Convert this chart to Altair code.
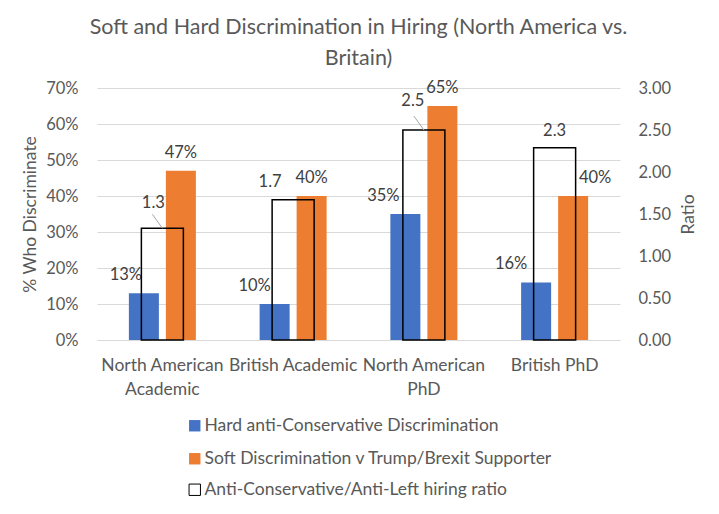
import altair as alt
import pandas as pd

categories = ["North American Academic", "British Academic", "North American PhD", "British PhD"]
hard = [0.13, 0.10, 0.35, 0.16]
soft = [0.47, 0.40, 0.65, 0.40]
ratio = [1.33, 1.67, 2.50, 2.29]
series_names = ["Hard anti-Conservative Discrimination",
                "Soft Discrimination v Trump/Brexit Supporter"]
ratio_name = "Anti-Conservative/Anti-Left hiring ratio"

# label nudges in pixels (style only)
hard_dx = [-18, -20, -22, -25]
soft_dx = [0, 0, 0, 22]
ratio_dx = [-9, -23, -11, 0]
ratio_dy = [-25, -18, -29, -17]
ratio_leader = [True, False, True, False]

BLUE = "#4472C4"
ORANGE = "#ED7D31"
GREY = "#595959"
FONT = "Lato"
BAR_W = 30
GAP = 7
SHIFT = (BAR_W + GAP) / 2
TXT = 17.5
NUM = 16.5

df_hard = pd.DataFrame({"category": categories, "value": hard, "dx": hard_dx,
                        "series": series_names[0]})
df_soft = pd.DataFrame({"category": categories, "value": soft, "dx": soft_dx,
                        "series": series_names[1]})
df_ratio = pd.DataFrame({"category": categories, "value": ratio, "dx": ratio_dx,
                         "dy": ratio_dy, "leader": ratio_leader, "series": ratio_name})

x_enc = alt.X("category:N", sort=categories, title=None,
              scale=alt.Scale(paddingInner=0, paddingOuter=0),
              axis=alt.Axis(labelExpr="indexof(datum.label, 'North American ') == 0 ? ['North American', replace(datum.label, 'North American ', '')] : datum.label",
                            labelAngle=0, labelFontSize=TXT, labelColor=GREY, labelFont=FONT,
                            labelLimit=200, labelLineHeight=24, labelPadding=16,
                            domainColor="#D9D9D9", domainWidth=1, ticks=False))

y_left = alt.Y("value:Q", title="% Who Discriminate",
               scale=alt.Scale(domain=[0, 0.7], nice=False),
               axis=alt.Axis(values=[0, 0.1, 0.2, 0.3, 0.4, 0.5, 0.6, 0.7], format=".0%",
                             labelFontSize=NUM, labelColor=GREY, labelFont=FONT,
                             labelPadding=19, ticks=False, domain=False,
                             gridColor="#D9D9D9", gridWidth=1,
                             titleFontSize=TXT, titleColor=GREY, titleFont=FONT,
                             titleFontWeight="normal", titleX=-67, titleY=126,
                             titleAlign="center", titleBaseline="middle", titleAngle=270))

color_enc = alt.Color("series:N",
                      scale=alt.Scale(domain=series_names, range=[BLUE, ORANGE]),
                      legend=alt.Legend(title=None, orient="none", legendX=89, legendY=329,
                                        symbolType="square", symbolSize=130,
                                        symbolStrokeWidth=0, labelFontSize=TXT,
                                        labelColor=GREY, labelFont=FONT, rowPadding=14,
                                        labelOffset=1, labelLimit=500))

hard_bars = alt.Chart(df_hard).mark_bar(width=BAR_W, xOffset=-SHIFT).encode(
    x=x_enc, y=y_left, color=color_enc)
soft_bars = alt.Chart(df_soft).mark_bar(width=BAR_W, xOffset=SHIFT).encode(
    x=x_enc, y=y_left, color=color_enc)

hard_text = alt.Chart(df_hard).mark_text(
    xOffset=-SHIFT, dx={"expr": "datum.dx"}, dy=-18, fontSize=NUM, font=FONT,
    color="#404040", baseline="middle").encode(
    x=x_enc, y=y_left, text=alt.Text("value:Q", format=".0%"))
soft_text = alt.Chart(df_soft).mark_text(
    xOffset=SHIFT, dx={"expr": "datum.dx"}, dy=-18, fontSize=NUM, font=FONT,
    color="#404040", baseline="middle").encode(
    x=x_enc, y=y_left, text=alt.Text("value:Q", format=".0%"))

left = alt.layer(hard_bars, soft_bars, hard_text, soft_text)

y_right = alt.Y("value:Q", title="Ratio",
                scale=alt.Scale(domain=[0, 3], nice=False),
                axis=alt.Axis(orient="right", values=[0, 0.5, 1, 1.5, 2, 2.5, 3], format=".2f",
                              labelFontSize=NUM, labelColor=GREY, labelFont=FONT,
                              labelPadding=18, ticks=False, domain=False, grid=False,
                              titleFontSize=TXT, titleColor=GREY, titleFont=FONT,
                              titleFontWeight="normal", titleAngle=270,
                              titleX=68, titleY=126, titleAlign="center",
                              titleBaseline="middle"))

ratio_bars = alt.Chart(df_ratio).mark_bar(width=42, fill="transparent", strokeWidth=1.5).encode(
    x=x_enc, y=y_right,
    stroke=alt.Stroke("series:N", scale=alt.Scale(domain=[ratio_name], range=["black"]),
                      legend=alt.Legend(title=None, orient="none", legendX=89, legendY=393,
                                        symbolType="square", symbolSize=130,
                                        symbolFillColor="white", symbolStrokeWidth=1,
                                        labelFontSize=TXT, labelColor=GREY, labelFont=FONT,
                                        labelOffset=1, labelLimit=500)))
ratio_text = alt.Chart(df_ratio).mark_text(
    dx={"expr": "datum.dx"}, dy={"expr": "datum.dy"}, fontSize=NUM, font=FONT,
    color="#404040", baseline="middle").encode(
    x=x_enc, y=y_right, text=alt.Text("value:Q", format=".1f"))

leaders = alt.Chart(df_ratio).transform_filter("datum.leader").mark_rule(
    color="#A6A6A6", strokeWidth=1, xOffset=-10, yOffset=-14).encode(
    x=x_enc, y=y_right, x2="category:N", y2="value:Q")

right = alt.layer(ratio_bars, leaders, ratio_text)

chart = alt.layer(left, right).resolve_scale(y="independent").properties(
    width=523, height=252,
    autosize=alt.AutoSizeParams(type="none"),
    padding={"left": 97, "top": 88, "right": 99, "bottom": 174},
    title=alt.TitleParams(
        text=["Soft and Hard Discrimination in Hiring (North America vs.", "Britain)"],
        fontSize=21.5, font=FONT, fontWeight="normal", color=GREY,
        anchor="middle", lineHeight=31, offset=11),
).configure_view(stroke=None)

chart.save("out.html", embed_options={"renderer": "svg", "actions": False})
